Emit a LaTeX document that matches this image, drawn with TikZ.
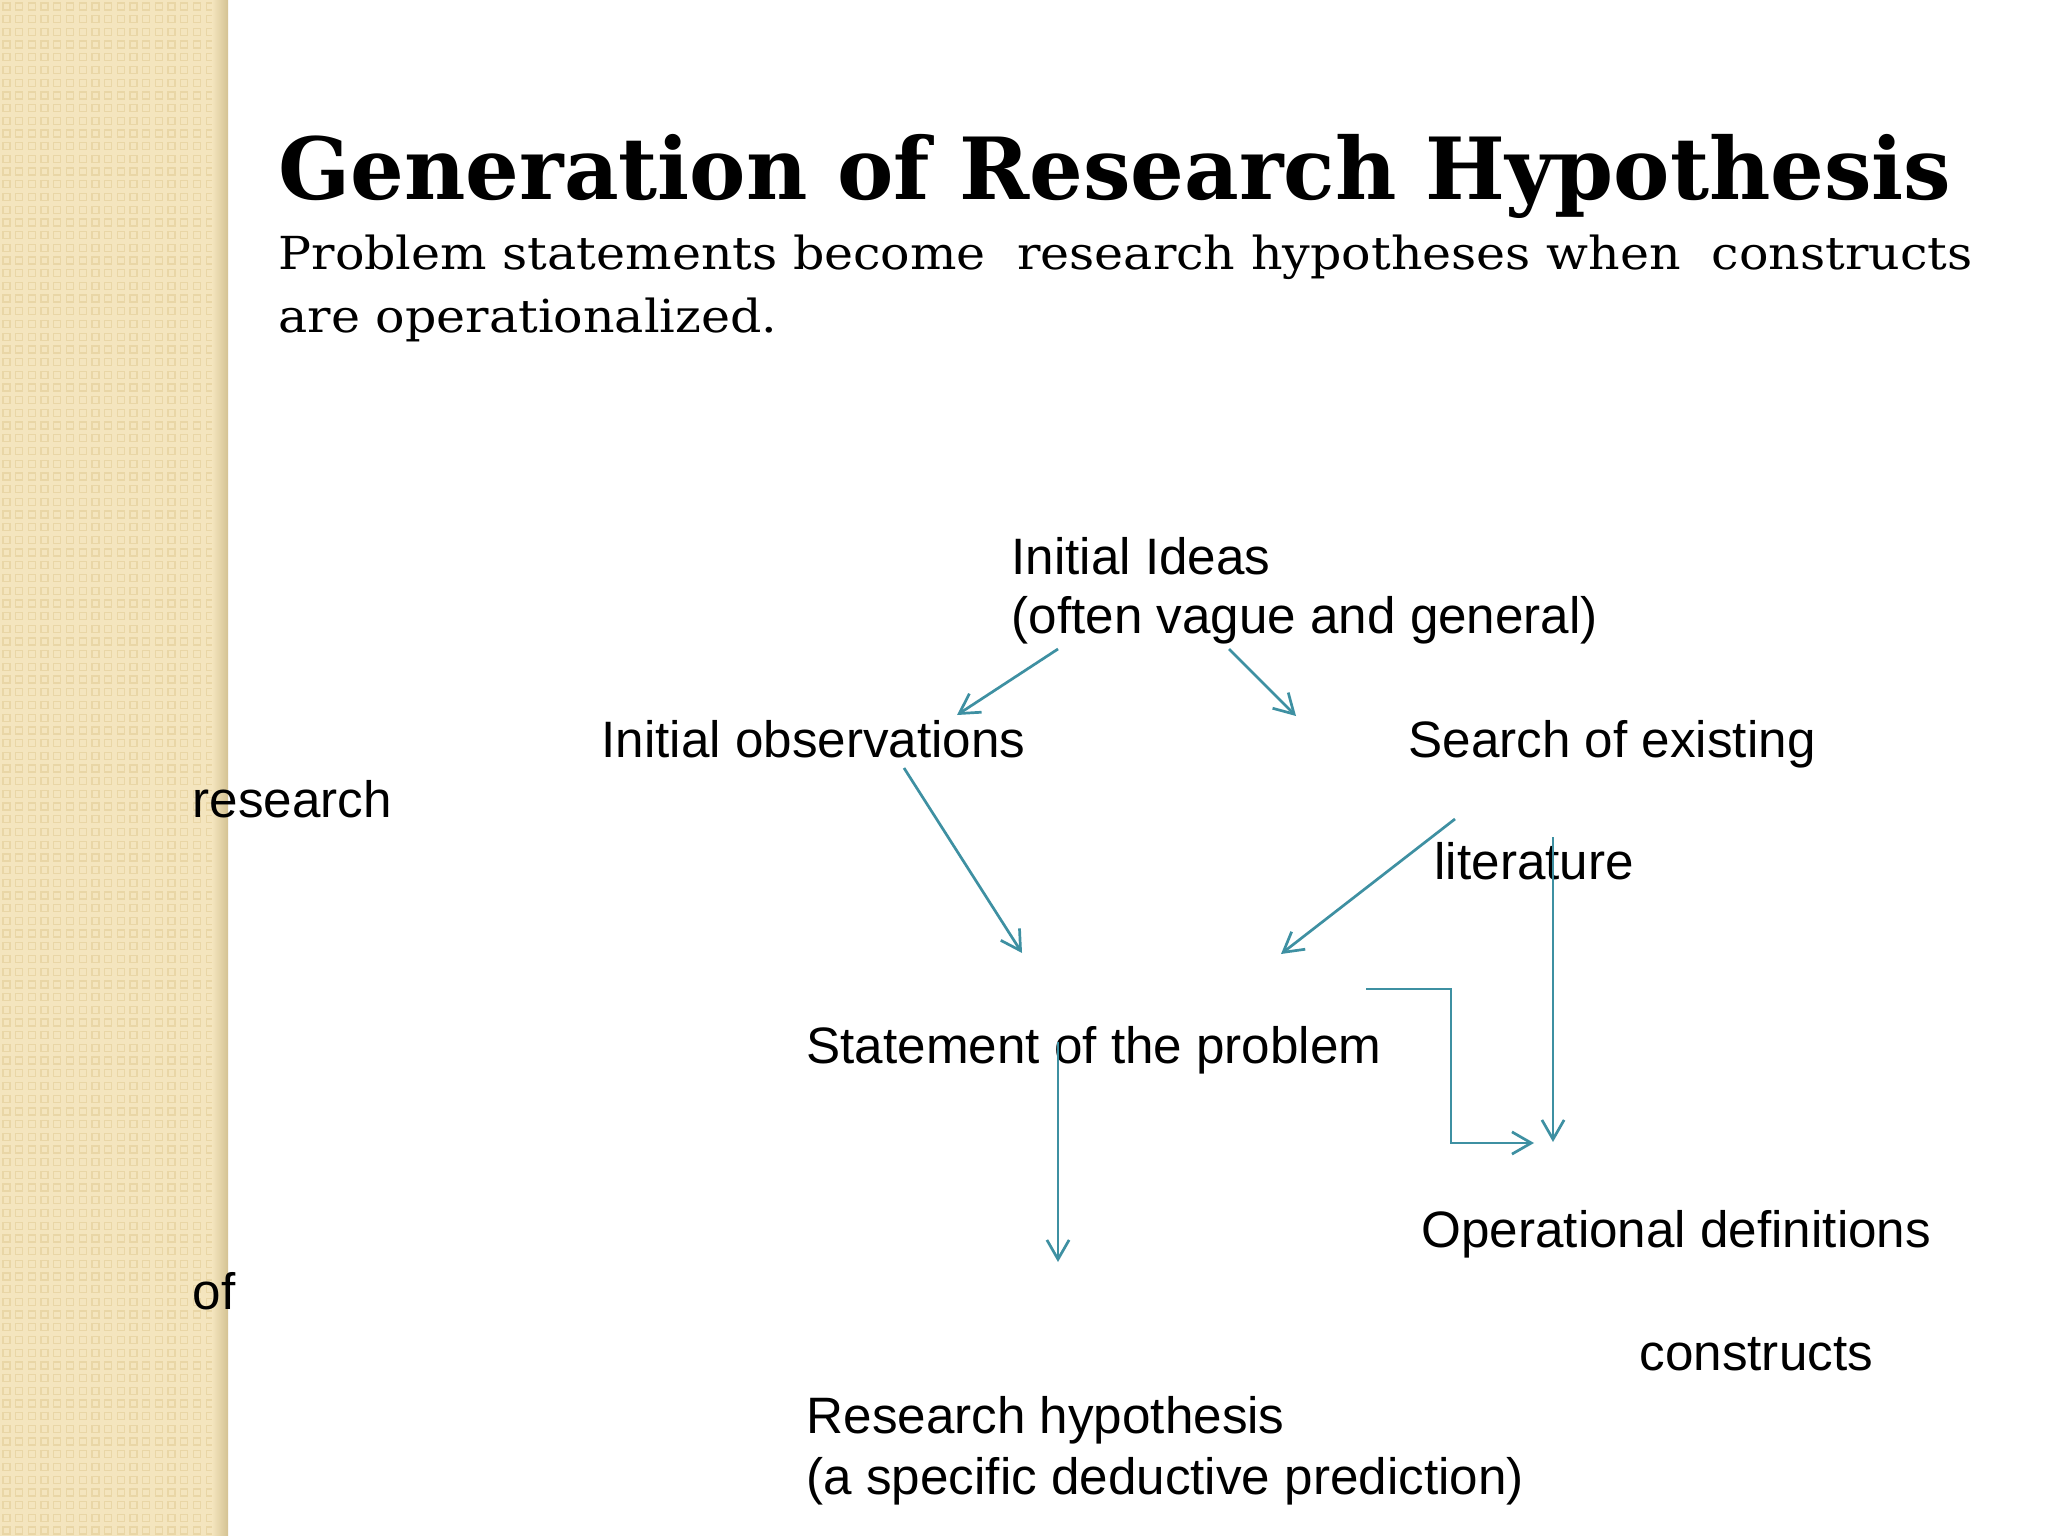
\documentclass[tikz,border=0pt]{standalone}
\usepackage{fontspec}
\setmainfont{Liberation Sans}
\newfontfamily\titlefont{DejaVu Serif}
\usetikzlibrary{arrows.meta}
\definecolor{arrowteal}{RGB}{62,144,162}
\definecolor{stripbase}{RGB}{244,229,190}
\definecolor{stripdot}{RGB}{233,214,166}
\definecolor{stripedge}{RGB}{212,194,146}
\begin{document}
\begin{tikzpicture}[x=0.3515625pt,y=-0.3515625pt,
  lbl/.style={anchor=base west,inner sep=0pt,font=\fontsize{18}{21}\selectfont},
  flow/.style={draw=arrowteal,line width=0.95pt,-{Straight Barb[length=6.8pt,width=7.8pt,line width=0.95pt]}}]
\useasboundingbox (0,0) rectangle (2048,1536);
\fill[white] (0,0) rectangle (2048,1536);
% decorative strip
\fill[stripbase] (0,0) rectangle (228,1536);
\foreach \i in {0,...,17}{
  \foreach \j in {0,...,121}{
    \draw[stripdot,line width=0.45pt] ({\i*12.7+3},{\j*12.7+3}) rectangle +(7,7);
  }
}
\shade[left color=stripbase,right color=stripedge] (212,0) rectangle (228,1536);
% title and subtitle
\node[anchor=base west,inner sep=0pt] (title) at (278,200)
  {\resizebox{588pt}{22.9pt}{\titlefont\bfseries Generation of Research Hypothesis}};
\node[anchor=base west,inner sep=0pt] (subtitle) at (278,270)
  {\resizebox{595.6pt}{\height}{\titlefont\fontsize{16}{21.8}\selectfont
   \begin{tabular}[t]{@{}l@{}}Problem statements become\ \ research hypotheses when\ \ constructs\\ are operationalized.\end{tabular}}};
% labels
\node[lbl] (ideas) at (1011,575) {Initial Ideas};
\node[lbl] (ideasb) at (1011,633) {(often vague and general)};
\node[lbl] (obs) at (601,757) {Initial observations};
\node[lbl] (search) at (1408,757) {Search of existing};
\node[lbl] (research) at (192,817) {research};
\node[lbl] (lit) at (1434,879) {literature};
\node[lbl] (stmt) at (806,1063) {Statement of the problem};
\node[lbl] (opdef) at (1421,1247) {Operational definitions};
\node[lbl] (of) at (192,1309) {of};
\node[lbl] (constr) at (1639,1370) {constructs};
\node[lbl] (hyp) at (806,1433) {Research hypothesis};
\node[lbl] (hypb) at (806,1494) {(a specific deductive prediction)};
% arrow end points
\coordinate (a1s) at (1058,649); \coordinate (a1e) at (957,715);
\coordinate (a2s) at (1229,649); \coordinate (a2e) at (1296,716);
\coordinate (a3s) at (904,768);  \coordinate (a3e) at (1022,953);
\coordinate (a4s) at (1455,819); \coordinate (a4e) at (1281,954);
\coordinate (a5s) at (1553,837); \coordinate (a5e) at (1553,1142);
\coordinate (a6s) at (1366,989); \coordinate (a6k) at (1451,989); \coordinate (a6e) at (1534,1143);
\coordinate (a7s) at (1058,1042); \coordinate (a7e) at (1058,1262);
% arrows
\draw[flow] (a1s) -- (a1e);
\draw[flow] (a2s) -- (a2e);
\draw[flow] (a3s) -- (a3e);
\draw[flow] (a4s) -- (a4e);
\draw[flow] (a5s) -- (a5e);
\draw[flow] (a6s) -- (a6k) |- (a6e);
\draw[flow] (a7s) -- (a7e);
\end{tikzpicture}
\end{document}
